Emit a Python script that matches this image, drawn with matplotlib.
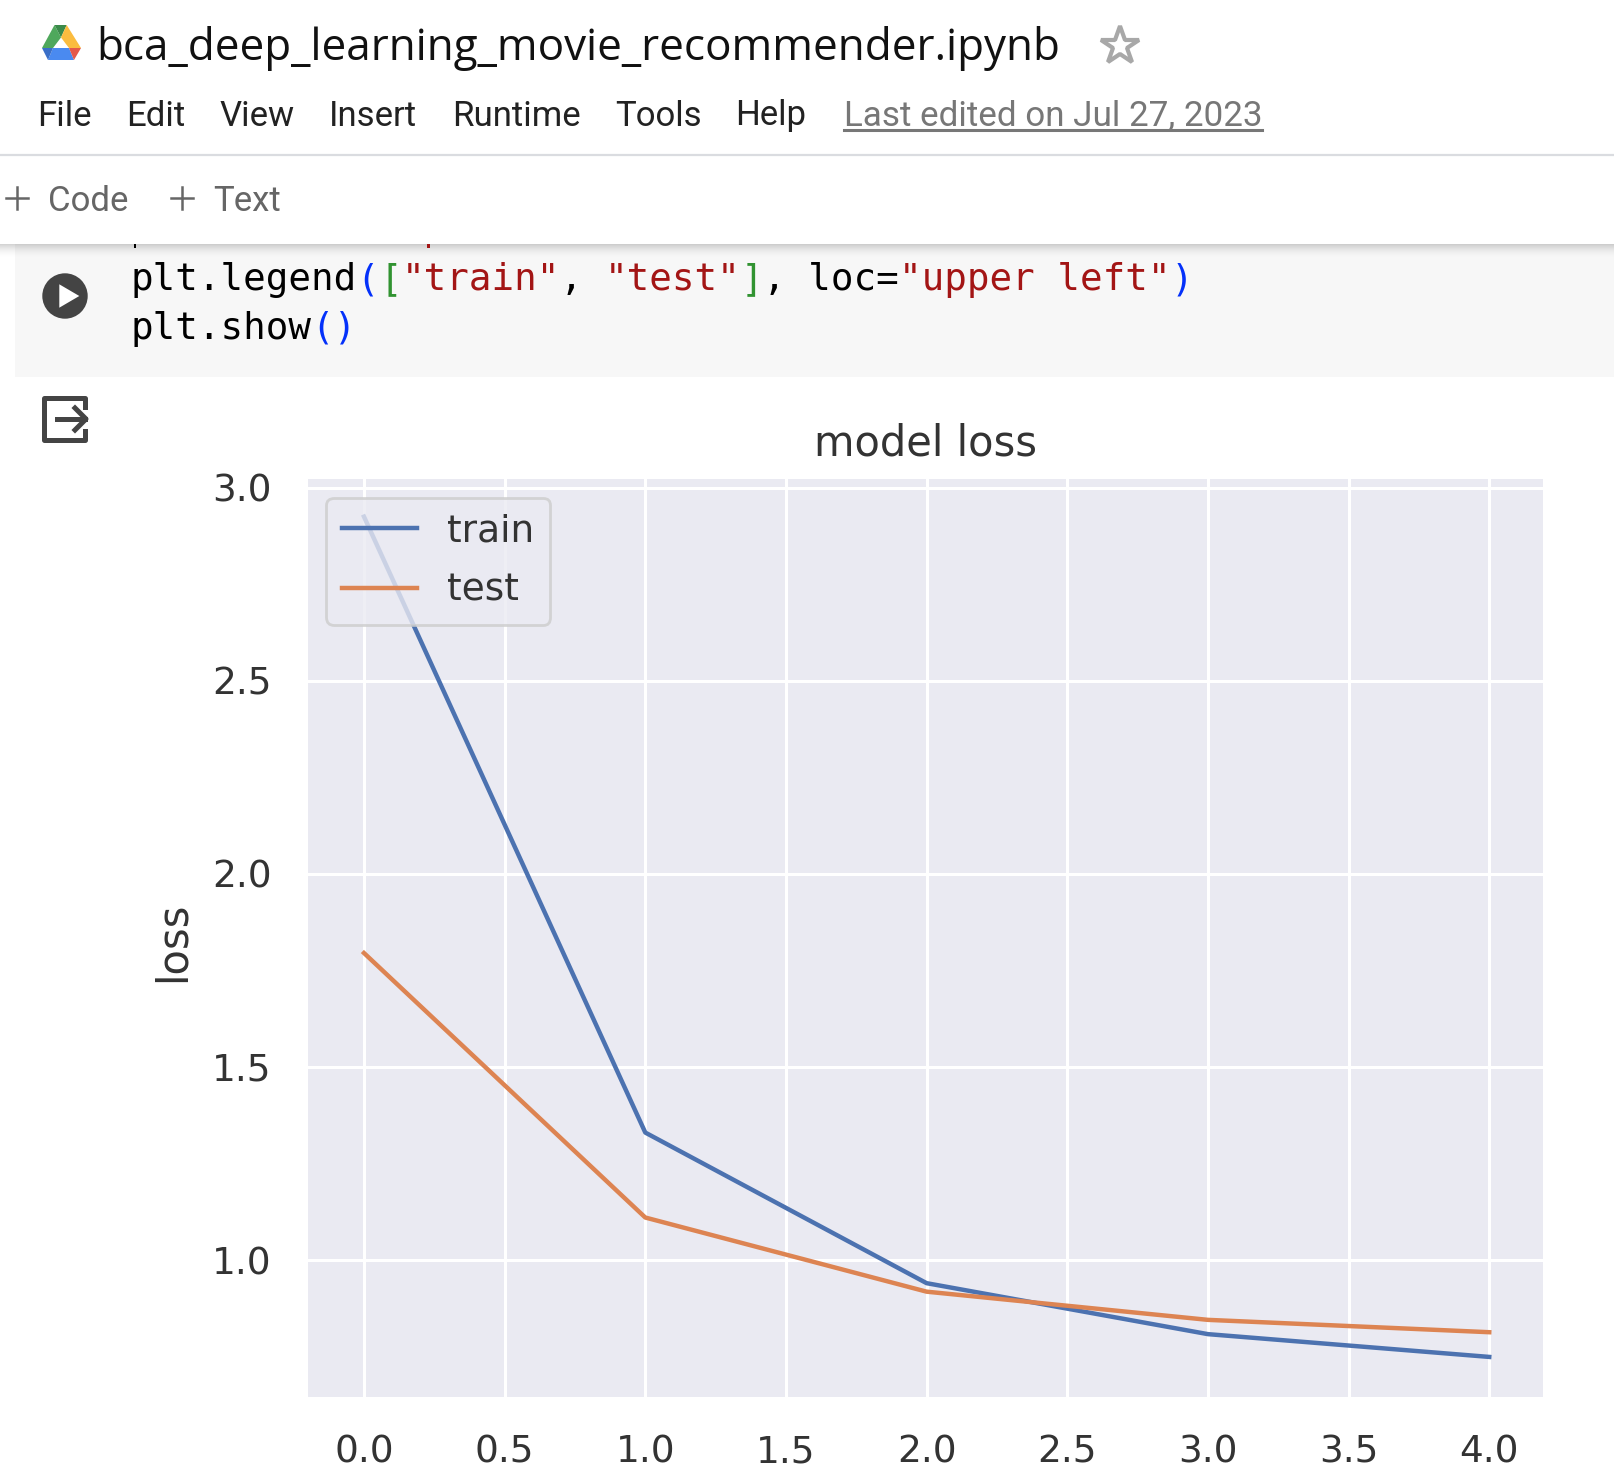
import matplotlib
matplotlib.use("Agg")
import matplotlib.pyplot as plt
from matplotlib.patches import Circle, Polygon, Rectangle

W, H = 1614, 1482

# values
epochs = [0, 1, 2, 3, 4]
train_loss = [2.925, 1.33, 0.94, 0.808, 0.749]
test_loss = [1.795, 1.11, 0.918, 0.845, 0.813]
x_ticks = [0.0, 0.5, 1.0, 1.5, 2.0, 2.5, 3.0, 3.5, 4.0]
y_ticks = [1.0, 1.5, 2.0, 2.5, 3.0]
series_names = ["train", "test"]

notebook_name = "bca_deep_learning_movie_recommender.ipynb"
menu_items = ["File", "Edit", "View", "Insert", "Runtime", "Tools", "Help"]
menu_x = [37, 126, 219, 328.5, 452, 615, 735.5]
last_edited = "Last edited on Jul 27, 2023"

BLACK, BLUE, GREEN, RED = "#000000", "#0431fa", "#319331", "#a31515"
code_line_1 = [("plt.legend", BLACK), ("(", BLUE), ("[", GREEN), ('"train"', RED),
               (", ", BLACK), ('"test"', RED), ("]", GREEN), (", loc=", BLACK),
               ('"upper left"', RED), (")", BLUE)]
code_line_2 = [("plt.show", BLACK), ("()", BLUE)]

fig = plt.figure(figsize=(W / 100, H / 100), dpi=100, facecolor="white")

# ---- notebook chrome, drawn in pixel coordinates ----
ui = fig.add_axes([0, 0, 1, 1], zorder=0)
ui.set_xlim(0, W)
ui.set_ylim(H, 0)
ui.axis("off")

ui.add_patch(Rectangle((15, 244), W, 133, fc="#f7f7f7", ec="none"))
for i in range(14):
    ui.add_patch(Rectangle((0, 244 + i), W, 1, fc="black", ec="none", alpha=0.17 * (1 - i / 14) ** 2))
ui.plot([0, W], [155, 155], color="#dadce0", lw=1.6)

# drive logo
logo = [
    ([(54.5, 25), (61, 37.5), (53, 48), (42, 48)], "#4fa85c"),
    ([(54.5, 25), (66.7, 25), (61, 37.5)], "#3b8a4a"),
    ([(66.7, 25), (81, 48), (69, 48), (61, 37.5)], "#fbbc3f"),
    ([(53, 48), (69, 48), (74, 60), (48, 60)], "#4a8af0"),
    ([(42, 48), (53, 48), (48, 60)], "#3a6fc8"),
    ([(69, 48), (81, 48), (74, 60)], "#e5594a"),
]
for pts, col in logo:
    ui.add_patch(Polygon(pts, closed=True, fc=col, ec="none"))

ui.text(96, 60, notebook_name, fontsize=31.7, family="Open Sans", color="#111111", va="baseline")
ui.plot([1120], [46], marker="*", ms=29, mfc="none", mec="#a8a8a8", mew=3.0, ls="none")

for label, x in zip(menu_items, menu_x):
    ui.text(x, 125.5, label, fontsize=25, family="Roboto", color="#222222", va="baseline")
ui.text(844, 125.5, last_edited, fontsize=25.2, family="Roboto", color="#777777", va="baseline")
ui.plot([844, 1262], [129.5, 129.5], color="#777777", lw=2.2)

for cx in (16.5, 182):
    ui.plot([cx - 11, cx + 11], [198, 198], color="#666666", lw=1.8)
    ui.plot([cx, cx], [187, 209], color="#666666", lw=1.8)
ui.text(48, 211, "Code", fontsize=25, family="Roboto", color="#666666", va="baseline")
ui.text(213, 211, "Text", fontsize=25, family="Roboto", color="#666666", va="baseline")

# code cell text, laid out on the monospace grid
CHAR_W = 22.6
for segments, base in ((code_line_1, 290), (code_line_2, 339)):
    col = 0
    for txt, colour in segments:
        ui.text(130.5 + col * CHAR_W, base, txt, fontsize=27, family="DejaVu Sans Mono",
                color=colour, va="baseline")
        col += len(txt)
ui.add_patch(Rectangle((133.5, 244), 2.5, 4, fc="black", ec="none"))
ui.add_patch(Rectangle((427, 244), 2.5, 4, fc=RED, ec="none"))

# run button
ui.add_patch(Circle((65, 296), 22.7, fc="#444444", ec="none"))
ui.add_patch(Polygon([(59.3, 284.3), (79.3, 296), (59.3, 307.7)], closed=True, fc="white", ec="none"))

# output icon
ICON = "#444444"
ui.plot([85, 85, 44, 44, 85, 85], [407, 398, 398, 440, 440, 431], color=ICON, lw=3.6,
        solid_joinstyle="round")
ui.plot([57, 85], [419, 419], color=ICON, lw=3.6)
ui.plot([75, 86, 75], [408, 419, 430], color=ICON, lw=3.6)

# ---- the chart itself ----
ax_left, ax_right, ax_top, ax_bottom = 307.7, 1542.7, 479, 1396.7
ax = fig.add_axes([ax_left / W, 1 - ax_bottom / H, (ax_right - ax_left) / W, (ax_bottom - ax_top) / H],
                  zorder=1, facecolor="#eaeaf2")
ax.plot(epochs, train_loss, color="#4c72b0", lw=3.2, label=series_names[0])
ax.plot(epochs, test_loss, color="#dd8452", lw=3.2, label=series_names[1])
ax.set_xlim(-0.2, 4.19)
ax.set_ylim(0.646, 3.0225)
ax.set_xticks(x_ticks)
ax.set_yticks(y_ticks)
ax.set_xticklabels([f"{v:.1f}" for v in x_ticks])
ax.set_yticklabels([f"{v:.1f}" for v in y_ticks])
ax.grid(True, color="white", lw=2.2)
ax.set_axisbelow(True)
for spine in ax.spines.values():
    spine.set_visible(False)
ax.tick_params(axis="x", length=0, labelsize=27, labelcolor="#333333", pad=27)
ax.tick_params(axis="y", length=0, labelsize=27, labelcolor="#333333", pad=26)
ax.set_title("model loss", fontsize=30, color="#333333", pad=17)
ax.set_ylabel("loss", fontsize=30, color="#333333", labelpad=13, y=0.4955)

leg = ax.legend(loc="upper left", fontsize=27, framealpha=0.8, facecolor="#eaeaf2", edgecolor="#cccccc",
                handlelength=2.0, borderpad=0.42, labelspacing=0.62, handletextpad=0.8, borderaxespad=0.5,
                labelcolor="#333333")
leg.get_frame().set_linewidth(2)

fig.savefig("out.png", dpi=100)
plt.close(fig)
